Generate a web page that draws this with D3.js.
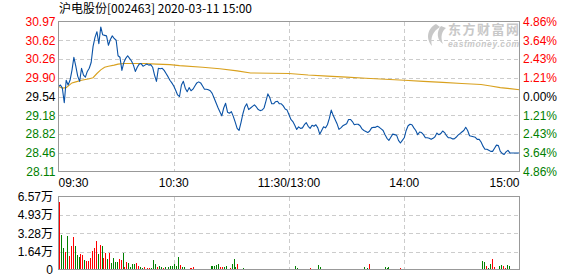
<!DOCTYPE html>
<html>
<head>
<meta charset="utf-8">
<script src="https://cdn.jsdelivr.net/npm/d3@7"></script>
<style>
  html, body { margin: 0; padding: 0; background: #fff; }
  svg { display: block; }
  text { font-family: "Liberation Sans", Arial, "Noto Sans CJK SC", sans-serif; }
</style>
</head>
<body>
<svg id="chart" width="578" height="276"></svg>
<script>
// ---------------- DATA ----------------
const title = "沪电股份[002463] 2020-03-11 15:00";
const preClose = 29.54;
const priceTicks = ["28.11","28.46","28.82","29.18","29.54","29.90","30.26","30.62","30.97"];
const pctTicks   = ["4.86%","3.64%","2.43%","1.21%","0.00%","1.21%","2.43%","3.64%","4.86%"];
const volTicks   = ["0","1.64万","3.28万","4.93万","6.57万"];
const volTickValues = [0, 1.64, 3.28, 4.93, 6.57];
const timeLabels = ["09:30","10:30","11:30/13:00","14:00","15:00"];
const timeLabelMinutes = [0, 60, 120, 180, 240];

// minute-by-minute price (241 points, 09:30 .. 11:30 / 13:01 .. 15:00)
const prices = [
  29.73,29.76,29.70,29.42,29.85,29.76,29.85,30.04,30.29,30.12,
  29.93,29.83,30.08,29.95,29.91,30.02,30.08,30.19,30.50,30.67,
  30.78,30.55,30.87,30.72,30.71,30.70,30.52,30.63,30.70,30.65,
  30.62,30.32,30.29,30.04,30.19,30.27,30.32,30.27,30.22,30.14,
  30.02,30.10,30.16,30.17,30.12,30.14,30.16,30.14,30.15,30.10,
  29.95,29.83,30.08,30.07,30.08,30.04,29.98,29.92,29.85,29.80,
  29.74,29.66,29.57,29.54,29.76,29.83,29.70,29.63,29.71,29.65,
  29.68,29.74,29.80,29.82,29.80,29.74,29.68,29.68,29.67,29.65,
  29.60,29.51,29.42,29.33,29.25,29.17,29.32,29.41,29.24,29.22,
  29.25,29.16,29.05,28.93,28.89,29.04,29.21,29.34,29.40,29.29,
  29.32,29.35,29.38,29.34,29.29,29.27,29.28,29.32,29.45,29.59,
  29.52,29.40,29.40,29.44,29.45,29.40,29.40,29.36,29.30,29.28,
  29.19,29.10,29.06,28.99,28.91,28.96,28.93,28.94,29.00,29.04,
  28.97,28.93,28.99,28.97,29.00,28.94,28.82,28.89,28.96,28.94,
  29.00,29.12,29.28,29.18,29.10,29.02,28.91,28.94,28.98,29.00,
  29.02,29.10,29.10,29.06,29.00,29.01,29.01,28.98,28.92,28.89,
  28.87,28.85,28.88,28.94,28.95,28.95,28.97,28.95,28.92,28.89,
  28.81,28.74,28.70,28.76,28.82,28.81,28.80,28.70,28.65,28.70,
  28.75,28.89,28.98,29.01,29.00,28.94,28.89,28.81,28.86,28.85,
  28.81,28.75,28.75,28.74,28.72,28.74,28.77,28.84,28.81,28.83,
  28.88,28.85,28.79,28.75,28.75,28.73,28.73,28.76,28.80,28.83,
  28.86,28.89,28.95,28.89,28.79,28.78,28.77,28.76,28.72,28.72,
  28.67,28.59,28.53,28.53,28.51,28.49,28.49,28.55,28.61,28.60,
  28.49,28.45,28.43,28.48,28.51,28.46,28.46,28.46,28.46,28.46,28.46
];

// average price line, read at these minutes
const avgMinutes = [0,2,4,7,9,12,16,18,20,22,24,26,29,31,34,45,51,58,63,75,84,93,100,120,130,140,150,160,170,180,190,200,210,220,225,230,235,240];
const avgPrices  = [29.73,29.70,29.71,29.80,29.82,29.85,29.88,29.90,29.98,30.05,30.10,30.12,30.14,30.16,30.17,30.17,30.16,30.15,30.13,30.10,30.07,30.03,29.99,29.98,29.95,29.93,29.91,29.89,29.87,29.85,29.83,29.81,29.79,29.77,29.74,29.71,29.69,29.67];

// minute volume (万股)
const volumes = [
  6.07,3.11,1.98,1.63,3.05,1.24,2.16,2.96,2.16,1.33,
  1.18,1.42,1.33,0.89,0.83,0.83,1.10,1.72,1.98,2.58,
  1.42,2.22,2.13,1.07,1.54,0.98,1.54,0.62,1.10,0.74,
  0.74,0.98,0.92,1.51,0.30,0.68,0.59,0.30,0.53,0.53,
  0.62,0.36,0.30,0.21,0.30,0.12,0.15,0.18,0.21,0.89,
  0.53,0.24,0.38,0.24,0.18,0.27,0.12,0.30,0.36,0.40,
  0.53,0.38,1.15,0.44,0.30,0.24,0.09,0.09,0.18,0.18,
  0.27,0.09,0.09,0.09,0.09,0.09,0.09,0.09,0.09,0.36,
  0.36,0.36,0.44,0.53,0.30,0.30,0.24,0.38,0.09,0.18,
  0.53,0.98,0.30,0.53,0.09,0.09,0.18,0.09,0.09,0.09,
  0.09,0.08,0.09,0.07,0.09,0.08,0.09,0.09,0.07,0.09,
  0.09,0.08,0.09,0.09,0.07,0.09,0.08,0.09,0.09,0.08,
  0.09,0.09,0.09,0.36,0.15,0.07,0.07,0.07,0.07,0.07,
  0.07,0.15,0.07,0.07,0.07,0.44,0.30,0.07,0.07,0.07,
  0.07,0.07,0.07,0.07,0.07,0.07,0.07,0.07,0.07,0.07,
  0.07,0.07,0.07,0.07,0.07,0.07,0.07,0.07,0.07,0.24,
  0.07,0.15,0.53,0.07,0.07,0.07,0.07,0.07,0.07,0.07,
  0.24,0.15,0.30,0.07,0.07,0.07,0.07,0.07,0.15,0.07,
  0.07,0.07,0.07,0.07,0.07,0.07,0.07,0.07,0.07,0.07,
  0.07,0.07,0.07,0.07,0.07,0.07,0.07,0.07,0.07,0.07,
  0.07,0.07,0.07,0.07,0.07,0.07,0.07,0.07,0.07,0.07,
  0.07,0.07,0.07,0.07,0.07,0.07,0.07,0.07,0.07,0.07,
  0.07,0.83,0.74,0.36,0.18,0.53,0.98,0.24,0.09,0.12,
  0.36,0.44,0.36,0.18,0.44,0.36,0.09,0.06,0,0,0.74
];
// 1 = up (red), 0 = down (green)
const volUp = [
  1,0,0,1,0,1,1,1,0,0, 0,1,1,0,1,1,1,1,1,1, 0,1,0,1,1,0,1,0,0,0,
  0,1,1,0,1,1,0,0,0,0, 1,1,0,0,1,0,1,1,0,0, 0,1,0,0,1,0,0,0,0,0,
  0,0,0,1,0,0,0,1,1,1, 1,1,1,1,0,0,0,0,0,0, 0,0,0,0,1,1,0,0,1,1,
  0,0,0,1,1,1,0,1,1,1, 0,0,0,1,1,1,1,0,0,1, 1,1,1,0,0,0,0,0,0,0,
  0,0,0,0,0,1,0,0,0,0, 1,1,1,0,0,0,0,1,1,1, 1,0,0,0,0,0,0,0,0,1,
  0,0,1,1,0,0,0,0,0,0, 0,0,1,1,1,1,1,0,1,1, 0,0,0,0,0,1,1,1,1,1,
  1,0,0,0,0,0,0,0,0,0, 0,1,0,0,0,0,0,0,0,0, 1,1,1,1,1,1,1,1,1,1,
  1,1,0,0,0,0,1,1,1,1, 1,0,0,1,0,0,1,1,1,0, 0,0,1,1,0,0,1,0,0,0,1
];

// ---------------- LAYOUT ----------------
const svg = d3.select("#chart");
const L = 58.5, R = 519.5;
const pTop = 21.5, pBot = 171.5;
const vTop = 196.5, vBot = 270;
const red = "#ff0000", green = "#008000", black = "#000000";
const gridColor = "#cccccc", borderColor = "#999999";

svg.append("rect").attr("width", 578).attr("height", 276).attr("fill", "#fff");

const x = d3.scaleLinear().domain([0, 240]).range([L, R]);
const maxDev = 1.435;
const y = d3.scaleLinear().domain([preClose - maxDev, preClose + maxDev]).range([pBot, pTop]);
const yv = d3.scaleLinear().domain([0, 6.57]).range([vBot, vTop]);
const xb = d3.scaleBand().domain(d3.range(241)).range([L, R]);

// title
svg.append("text").attr("x", 59).attr("y", 13)
  .attr("font-size", 12).attr("fill", "#000")
  .style("font-family", "'Noto Sans CJK SC', 'Liberation Sans', sans-serif")
  .text(title);

// watermark
const wm = svg.append("g").attr("fill", "#c8c8c8");
wm.append("path")
  .attr("d", "M436,24 C428,28 425,38 432,46 C430,38 433,31 440,27 Z M441,26 C436,32 437,40 443,44 C440,37 442,31 446,28 Z");
wm.append("text").attr("x", 448).attr("y", 34).attr("font-size", 13).attr("font-weight", "bold")
  .style("font-family", "'Noto Sans CJK SC', sans-serif").attr("textLength", 71).text("东方财富网");
wm.append("text").attr("x", 448).attr("y", 46.5).attr("font-size", 8.5).attr("font-weight", "bold")
  .attr("font-style", "italic").attr("textLength", 71).text("eastmoney.com");

// ---- price panel grid ----
const gridLevels = d3.range(9).map(i => preClose + maxDev * (i - 4) / 4);
const gGrid = svg.append("g").attr("stroke", gridColor).attr("stroke-dasharray", "4,3")
  .attr("shape-rendering", "crispEdges");
gGrid.selectAll("line.h").data(gridLevels.slice(1, 8)).join("line")
  .attr("x1", L).attr("x2", R).attr("y1", d => Math.round(y(d)) + 0.5).attr("y2", d => Math.round(y(d)) + 0.5);
gGrid.selectAll("line.v").data([60, 120, 180]).join("line")
  .attr("x1", d => Math.round(x(d)) + 0.5).attr("x2", d => Math.round(x(d)) + 0.5)
  .attr("y1", pTop).attr("y2", pBot);

// volume grid
const gvGrid = svg.append("g").attr("stroke", gridColor).attr("stroke-dasharray", "4,3")
  .attr("shape-rendering", "crispEdges");
gvGrid.selectAll("line.h").data(volTickValues.slice(1, 4)).join("line")
  .attr("x1", L).attr("x2", R).attr("y1", d => Math.round(yv(d)) + 0.5).attr("y2", d => Math.round(yv(d)) + 0.5);
gvGrid.selectAll("line.v").data([60, 120, 180]).join("line")
  .attr("x1", d => Math.round(x(d)) + 0.5).attr("x2", d => Math.round(x(d)) + 0.5)
  .attr("y1", vTop).attr("y2", vBot);

// ---- average line ----
const avgData = avgMinutes.map((m, i) => [m, avgPrices[i]]);
svg.append("path").datum(avgData)
  .attr("fill", "none").attr("stroke", "#d9a11e").attr("stroke-width", 1.1)
  .attr("d", d3.line().x(d => x(d[0])).y(d => y(d[1])));

// ---- price line ----
svg.append("path").datum(prices)
  .attr("fill", "none").attr("stroke", "#0a52a6").attr("stroke-width", 1.1)
  .attr("stroke-linejoin", "round")
  .attr("d", d3.line().x((d, i) => x(i)).y(d => y(d)));

// ---- volume bars ----
svg.append("g").attr("shape-rendering", "crispEdges")
  .selectAll("rect").data(volumes).join("rect")
  .attr("x", (d, i) => Math.round(xb(i) + xb.bandwidth() / 2) - 0.5)
  .attr("width", 1.2)
  .attr("y", d => yv(d))
  .attr("height", d => Math.max(0, vBot - yv(d)))
  .attr("fill", (d, i) => volUp[i] ? red : green);

// ---- borders ----
svg.append("rect").attr("x", L).attr("y", pTop).attr("width", R - L).attr("height", pBot - pTop)
  .attr("fill", "none").attr("stroke", borderColor).attr("shape-rendering", "crispEdges");
svg.append("rect").attr("x", L).attr("y", vTop).attr("width", R - L).attr("height", vBot - 0.5 - vTop)
  .attr("fill", "none").attr("stroke", borderColor).attr("shape-rendering", "crispEdges");

// ---- left price labels ----
const colorFor = i => i > 4 ? red : (i < 4 ? green : black);
svg.append("g").selectAll("text").data(priceTicks).join("text")
  .attr("x", 55.5).attr("y", (d, i) => y(gridLevels[i]))
  .attr("dy", "0.36em").attr("text-anchor", "end").attr("font-size", 12)
  .attr("fill", (d, i) => colorFor(i)).text(d => d);

// ---- right pct labels ----
svg.append("g").selectAll("text").data(pctTicks).join("text")
  .attr("x", 523).attr("y", (d, i) => y(gridLevels[8 - i]))
  .attr("dy", "0.36em").attr("text-anchor", "start").attr("font-size", 12)
  .attr("fill", (d, i) => colorFor(8 - i)).text(d => d);

// ---- time labels ----
svg.append("g").selectAll("text").data(timeLabels).join("text")
  .attr("x", (d, i) => x(timeLabelMinutes[i]))
  .attr("y", 187).attr("font-size", 12).attr("fill", "#000")
  .attr("text-anchor", (d, i) => i === 0 ? "start" : (i === timeLabels.length - 1 ? "end" : "middle"))
  .text(d => d);

// ---- volume labels ----
svg.append("g").selectAll("text").data(volTicks).join("text")
  .attr("x", 53).attr("y", (d, i) => yv(volTickValues[i]))
  .attr("dy", "0.36em").attr("text-anchor", "end").attr("font-size", 12)
  .attr("fill", "#000")
  .style("font-family", "'Liberation Sans', 'Noto Sans CJK SC', sans-serif")
  .text(d => d);
</script>
</body>
</html>
